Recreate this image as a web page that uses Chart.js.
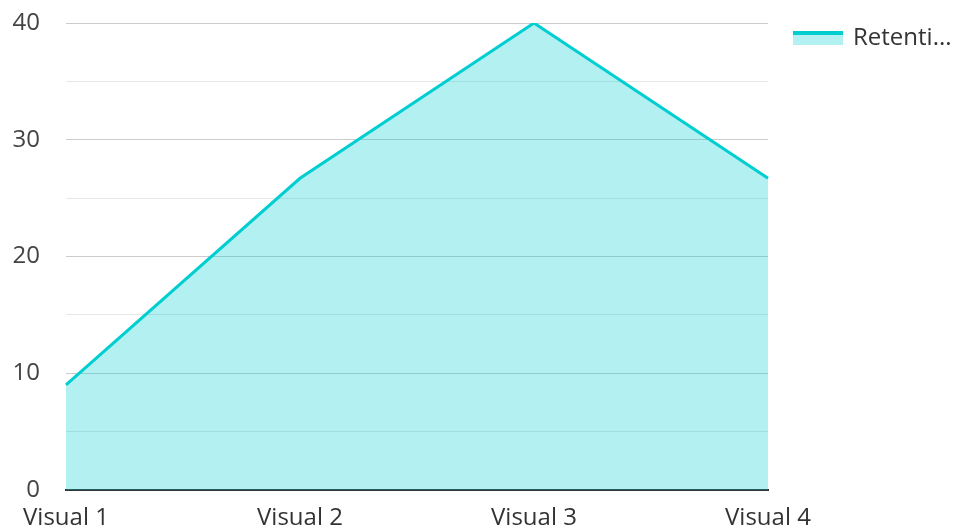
<!DOCTYPE html>
<html>
<head>
<meta charset="utf-8">
<script src="https://cdn.jsdelivr.net/npm/chart.js@4/dist/chart.umd.min.js"></script>
<style>
  html, body { margin: 0; padding: 0; background: #fff; }
  #wrap { position: relative; width: 958px; height: 531px; }
  #legend { position: absolute; left: 793px; top: 19px; display: flex; align-items: center;
    font-family: "Open Sans", sans-serif; font-size: 24px; color: #333; }
  #legend .box { width: 50px; height: 14px; background: rgba(0,206,209,0.3); border-top: 4px solid #00CED1;
    box-sizing: border-box; margin-right: 10px; margin-top: 4px; }
</style>
</head>
<body>
<div id="wrap">
  <canvas id="chart" width="958" height="531"></canvas>
  <div id="legend"><span class="box"></span><span>Retenti...</span></div>
</div>
<script>
// Retention per visual
const categories = ["Visual 1", "Visual 2", "Visual 3", "Visual 4"];
const retention = [9, 26.7, 40, 26.7];
const seriesName = "Retention";

new Chart(document.getElementById("chart").getContext("2d"), {
  type: "line",
  data: {
    labels: categories,
    datasets: [{
      label: seriesName,
      data: retention,
      fill: "origin",
      borderColor: "#00CED1",
      backgroundColor: "rgba(0,206,209,0.3)",
      borderWidth: 3,
      tension: 0,
      pointRadius: 0
    }]
  },
  options: {
    responsive: false,
    animation: false,
    layout: { padding: { top: 23, right: 190, left: 0, bottom: 0 } },
    plugins: {
      legend: { display: false },
      tooltip: { enabled: false }
    },
    scales: {
      x: {
        offset: false,
        grid: { display: false, drawTicks: false },
        border: { display: true, color: "#333", width: 2 },
        ticks: {
          padding: 14,
          maxRotation: 0,
          color: "#333",
          font: { family: "Open Sans", size: 24 }
        },
        afterFit: scale => {
          scale.height = 41;
          scale.paddingLeft = 0; scale.paddingRight = 0;
        }
      },
      y: {
        min: 0,
        max: 40,
        border: { display: false },
        grid: {
          drawTicks: false,
          color: ctx => (ctx.tick && ctx.tick.value % 10 === 0) ? "#cccccc" : "#e6e6e6",
          lineWidth: 1
        },
        ticks: {
          stepSize: 5,
          padding: 26,
          color: "#444",
          font: { family: "Open Sans", size: 24 },
          callback: v => (v % 10 === 0 ? v : "")
        },
        afterFit: scale => {
          scale.width = 66;
          scale.paddingTop = 0; scale.paddingBottom = 0;
        }
      }
    }
  }
});
</script>
</body>
</html>
